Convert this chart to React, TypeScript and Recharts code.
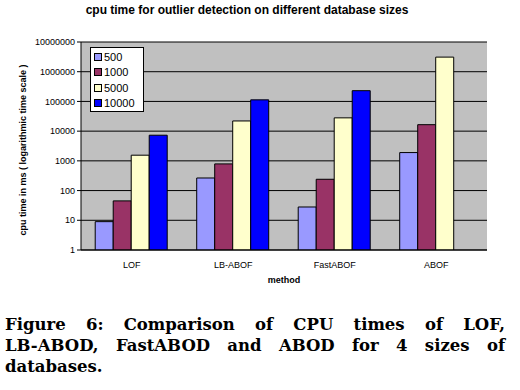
import React from "react";
import {
  BarChart,
  Bar,
  XAxis,
  YAxis,
  CartesianGrid,
} from "recharts";

// cpu time in ms
const methods = ["LOF", "LB-ABOF", "FastABOF", "ABOF"];
const t500 = [9, 265, 28, 1900];
const t1000 = [45, 790, 240, 16500];
const t5000 = [1550, 22000, 28000, 3100000];
const t10000 = [7300, 113000, 230000, null];
const yTicks = [1, 10, 100, 1000, 10000, 100000, 1000000, 10000000];

const captionLines = [
  "Figure 6: Comparison of CPU times of LOF,",
  "LB-ABOD, FastABOD and ABOD for 4 sizes of",
  "databases.",
];

const series = [
  { key: "500", values: t500, color: "#9999ff" },
  { key: "1000", values: t1000, color: "#993366" },
  { key: "5000", values: t5000, color: "#ffffcc" },
  { key: "10000", values: t10000, color: "#0000ff" },
];

const data = methods.map((m, i) => {
  const row: Record<string, any> = { method: m, pos: i + 0.5 };
  series.forEach((s) => {
    row[s.key] = s.values[i];
  });
  return row;
});

const font = "Arial, 'Liberation Sans', sans-serif";

export default function App() {
  return (
    <div
      style={{
        position: "absolute",
        left: 0,
        top: 0,
        width: 520,
        height: 390,
        background: "#fff",
        fontFamily: font,
      }}
    >
      <div
        style={{
          position: "absolute",
          top: 3,
          left: 0,
          width: 494,
          textAlign: "center",
          fontWeight: "bold",
          fontSize: 12,
        }}
      >
        cpu time for outlier detection on different database sizes
      </div>

      <div
        style={{
          position: "absolute",
          left: 23,
          top: 150,
          transform: "translate(-50%, -50%) rotate(-90deg)",
          whiteSpace: "nowrap",
          fontWeight: "bold",
          fontSize: 9,
        }}
      >
        cpu time in ms ( logarithmic time scale )
      </div>

      <BarChart
        width={520}
        height={290}
        data={data}
        margin={{ top: 42, right: 33, left: 21, bottom: 0 }}
        barCategoryGap="14%"
        barGap={0}
      >
        <CartesianGrid
          vertical={false}
          stroke="#000"
          fill="#c0c0c0"
          fillOpacity={1}
        />
        <XAxis
          xAxisId="edges"
          type="number"
          dataKey="pos"
          domain={[0, 4]}
          ticks={[0, 1, 2, 3, 4]}
          tickFormatter={() => ""}
          tickSize={4}
          tickLine={{ stroke: "#000" }}
          axisLine={false}
          height={0}
        />
        <XAxis
          dataKey="method"
          tickLine={false}
          axisLine={{ stroke: "#000" }}
          tick={{ fontSize: 9, fill: "#000", fontFamily: font }}
          tickMargin={6}
          height={40}
        />
        <YAxis
          scale="log"
          domain={[1, 10000000]}
          ticks={yTicks}
          allowDataOverflow
          interval={0}
          width={60}
          tickSize={4}
          tickLine={{ stroke: "#000" }}
          axisLine={{ stroke: "#000" }}
          tick={{ fontSize: 9, fill: "#000", fontFamily: font }}
        />
        <YAxis
          yAxisId="frame"
          orientation="right"
          width={0}
          tick={false}
          tickLine={false}
          axisLine={{ stroke: "#808080" }}
        />
        {series.map((s) => (
          <Bar
            key={s.key}
            dataKey={s.key}
            fill={s.color}
            stroke="#000"
            strokeWidth={1}
            isAnimationActive={false}
          />
        ))}
      </BarChart>

      <div
        style={{
          position: "absolute",
          left: 90,
          top: 47,
          width: 49,
          height: 62,
          background: "#fff",
          border: "1px solid #000",
          fontSize: 11,
          padding: "1px 0 0 3px",
          boxSizing: "content-box",
        }}
      >
        {series.map((s) => (
          <div
            key={s.key}
            style={{ display: "flex", alignItems: "center", height: 15.5 }}
          >
            <span
              style={{
                display: "inline-block",
                width: 6,
                height: 6,
                background: s.color,
                border: "1px solid #000",
                marginRight: 2,
              }}
            />
            <span>{s.key}</span>
          </div>
        ))}
      </div>

      <div
        style={{
          position: "absolute",
          top: 275,
          left: 254,
          width: 60,
          textAlign: "center",
          fontWeight: "bold",
          fontSize: 9,
        }}
      >
        method
      </div>

      <div
        style={{
          position: "absolute",
          left: 5,
          top: 314,
          width: 500,
          fontFamily: "'DejaVu Serif', 'Liberation Serif', serif",
          fontWeight: "bold",
          fontSize: 16.5,
          lineHeight: "21px",
        }}
      >
        {captionLines.map((line, i) => (
          <div
            key={i}
            style={{
              whiteSpace: "nowrap",
              textAlign: "justify",
              textAlignLast: i < captionLines.length - 1 ? "justify" : "left",
            }}
          >
            {line}
          </div>
        ))}
      </div>
    </div>
  );
}
